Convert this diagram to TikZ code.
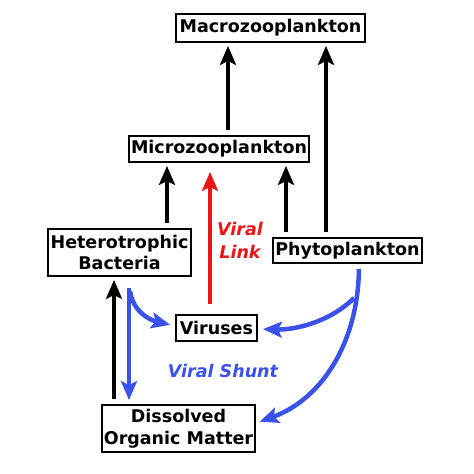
\documentclass[tikz,border=0pt]{standalone}
\usepackage{fontspec}
\setmainfont{DejaVu Sans}
\usetikzlibrary{arrows.meta}
\definecolor{shuntblue}{RGB}{58,82,236}
\definecolor{linkred}{RGB}{236,20,20}

\begin{document}
\begin{tikzpicture}[x=1pt, y=-1pt,
      box/.style = {shape=rectangle, draw, line width=1.8pt, align=center,
        inner sep=0pt, font=\fontsize{17.5}{21.5}\selectfont\bfseries},
      flow/.style = {line width=4.5pt, -{Stealth[length=19pt, width=16pt, inset=4pt]},
        shorten <=5pt, shorten >=3pt},
      blk/.style = {flow, black},
      shunt/.style = {flow, shuntblue},
      note/.style = {align=center, font=\fontsize{17.5}{23}\selectfont\bfseries\itshape}]
  \useasboundingbox (0,0) rectangle (474,474);
  \node[box, minimum width=189pt, minimum height=28pt] (macro) at (270.5,28) {Macrozooplankton};
  \node[box, minimum width=180pt, minimum height=26pt] (micro) at (219,149) {Microzooplankton};
  \node[box, minimum width=143pt, minimum height=47pt] (bact) at (119.5,252.5) {Heterotrophic\\Bacteria};
  \node[box, minimum width=149pt, minimum height=25pt] (phyto) at (347.5,250.5) {Phytoplankton};
  \node[box, minimum width=81pt, minimum height=26pt] (virus) at (216.5,328) {Viruses};
  \node[box, minimum width=153pt, minimum height=47pt] (dom) at (178.5,428.5) {Dissolved\\Organic Matter};
  \node[note, text=linkred] (link) at (240,240) {Viral\\Link};
  \node[note, text=shuntblue] (shunt) at (223,371) {Viral Shunt};
  % grazing
  \draw[blk] (micro.north -| 228,0) -- (macro.south -| 228,0);
  \draw[blk] (phyto.north -| 326,0) -- (macro.south -| 326,0);
  \draw[blk] (bact.north -| 167,0) -- (micro.south -| 167,0);
  \draw[blk] (phyto.north -| 286,0) -- (micro.south -| 286,0);
  \draw[blk] (dom.north -| 114,0) -- (bact.south -| 114,0);
  % viral link
  \draw[flow, linkred, shorten <=10pt, shorten >=9pt] (virus.north -| 210,0) -- (micro.south -| 210,0);
  % viral shunt
  \draw[shunt, shorten <=11pt, shorten >=4pt] (bact.south -| 129,0) -- (dom.north -| 129,0);
  \coordinate (bfork) at (130,291);
  \coordinate (pfork) at (354,298);
  \draw[shunt, shorten <=0pt, shorten >=5pt] (bfork) .. controls (133,312) and (150,320) .. (virus.west |- 0,326);
  \draw[shunt, shorten >=4pt] (phyto.south -| 359,0) .. controls (358,345) and (320,400) .. (dom.east |- 0,423);
  \draw[shunt, shorten <=0pt, shorten >=5pt] (pfork) .. controls (330,322) and (295,330) .. (virus.east |- 0,329);
\end{tikzpicture}
\end{document}
